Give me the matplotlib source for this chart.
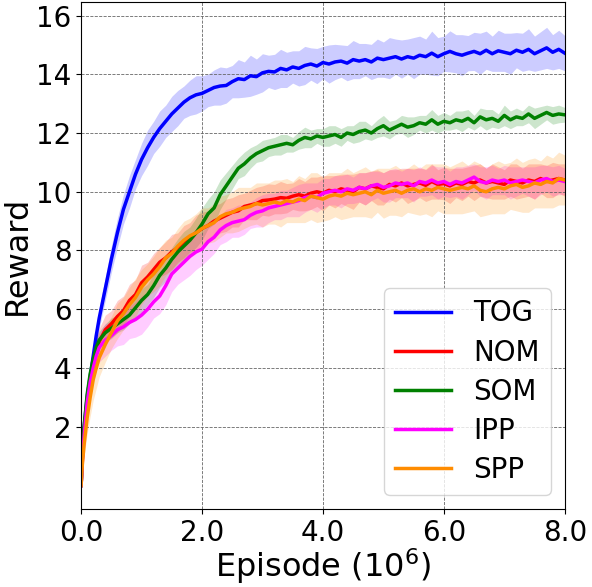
import numpy as np
import matplotlib
matplotlib.use("Agg")
import matplotlib.pyplot as plt

# episode axis (in 10^6), dense at the start where curves rise fast
episodes = np.concatenate([[0.0, 0.02, 0.05, 0.1, 0.15, 0.2, 0.25], np.round(np.arange(0.3, 8.05, 0.1), 2)])

tog_mean = [0.0, 1.0, 2.0, 3.0, 3.7, 4.4, 5.1,
            5.7, 6.7, 7.7, 8.6, 9.4, 10.0, 10.6, 11.1, 11.5, 11.85,
            12.15, 12.4, 12.65, 12.85, 13.05, 13.2, 13.3, 13.35, 13.45, 13.55,
            13.6, 13.62, 13.75, 13.85, 13.82, 13.95, 13.92, 14.05, 14.1, 14.08,
            14.2, 14.15, 14.25, 14.2, 14.3, 14.35, 14.28, 14.4, 14.35, 14.42,
            14.45, 14.38, 14.5, 14.45, 14.5, 14.42, 14.55, 14.5, 14.55, 14.6,
            14.52, 14.6, 14.55, 14.65, 14.6, 14.72, 14.6, 14.7, 14.78, 14.7,
            14.65, 14.72, 14.78, 14.7, 14.82, 14.7, 14.8, 14.75, 14.7, 14.82,
            14.75, 14.85, 14.7, 14.8, 14.9, 14.75, 14.85, 14.72]
tog_std = [0.0, 0.1, 0.2, 0.25, 0.3, 0.3, 0.35,
           0.35, 0.4, 0.45, 0.5, 0.5, 0.55, 0.5, 0.55, 0.6, 0.55,
           0.6, 0.55, 0.6, 0.6, 0.55, 0.6, 0.65, 0.6, 0.55, 0.6,
           0.65, 0.6, 0.55, 0.65, 0.6, 0.7, 0.6, 0.65, 0.55, 0.6,
           0.65, 0.6, 0.55, 0.6, 0.65, 0.55, 0.6, 0.55, 0.65, 0.6,
           0.55, 0.6, 0.65, 0.6, 0.55, 0.6, 0.65, 0.6, 0.7, 0.6,
           0.65, 0.6, 0.7, 0.65, 0.6, 0.75, 0.65, 0.6, 0.7, 0.65,
           0.7, 0.6, 0.65, 0.7, 0.65, 0.6, 0.7, 0.65, 0.7, 0.6,
           0.65, 0.7, 0.6, 0.65, 0.7, 0.6, 0.65, 0.6]

nom_mean = [0.0, 0.9, 1.8, 2.9, 3.6, 4.2, 4.6,
            4.9, 5.3, 5.5, 5.75, 5.95, 6.3, 6.5, 6.9, 7.1, 7.35,
            7.6, 7.75, 7.95, 8.1, 8.3, 8.45, 8.6, 8.75, 8.85, 9.0,
            9.1, 9.2, 9.3, 9.35, 9.5, 9.55, 9.6, 9.7, 9.72, 9.75,
            9.8, 9.78, 9.85, 9.9, 9.85, 9.95, 10.0, 9.95, 10.05, 10.0,
            10.1, 10.05, 10.0, 10.15, 10.1, 10.2, 10.15, 10.1, 10.25, 10.2,
            10.3, 10.2, 10.25, 10.3, 10.22, 10.35, 10.25, 10.28, 10.2, 10.3,
            10.25, 10.35, 10.3, 10.4, 10.3, 10.35, 10.3, 10.25, 10.4, 10.35,
            10.3, 10.4, 10.35, 10.45, 10.35, 10.4, 10.45, 10.4]
nom_std = [0.0, 0.15, 0.3, 0.35, 0.4, 0.4, 0.4,
           0.45, 0.5, 0.45, 0.55, 0.5, 0.55, 0.5, 0.6, 0.5, 0.55,
           0.5, 0.55, 0.6, 0.5, 0.55, 0.5, 0.6, 0.55, 0.5, 0.55,
           0.5, 0.55, 0.5, 0.55, 0.45, 0.5, 0.55, 0.5, 0.55, 0.5,
           0.55, 0.5, 0.45, 0.55, 0.5, 0.55, 0.5, 0.6, 0.5, 0.55,
           0.5, 0.55, 0.6, 0.5, 0.55, 0.5, 0.6, 0.55, 0.5, 0.55,
           0.5, 0.6, 0.55, 0.5, 0.55, 0.6, 0.5, 0.55, 0.6, 0.5,
           0.55, 0.5, 0.6, 0.55, 0.5, 0.6, 0.55, 0.5, 0.55, 0.6,
           0.5, 0.55, 0.6, 0.5, 0.55, 0.6, 0.5, 0.55]

som_mean = [0.0, 1.0, 2.0, 3.1, 3.8, 4.3, 4.7,
            4.95, 5.2, 5.35, 5.5, 5.65, 5.8, 6.05, 6.3, 6.5, 6.8,
            7.15, 7.4, 7.7, 7.95, 8.15, 8.35, 8.6, 8.9, 9.25, 9.45,
            9.9, 10.2, 10.5, 10.8, 10.95, 11.15, 11.3, 11.4, 11.5, 11.55,
            11.6, 11.65, 11.6, 11.75, 11.85, 11.8, 11.9, 11.85, 11.9, 11.95,
            11.85, 12.0, 11.95, 12.05, 12.1, 12.0, 12.15, 12.25, 12.1, 12.2,
            12.3, 12.2, 12.25, 12.35, 12.3, 12.45, 12.3, 12.4, 12.35, 12.45,
            12.4, 12.5, 12.35, 12.55, 12.45, 12.5, 12.4, 12.6, 12.45, 12.55,
            12.5, 12.65, 12.5, 12.6, 12.7, 12.6, 12.65, 12.62]
som_std = [0.0, 0.1, 0.2, 0.25, 0.25, 0.3, 0.3,
           0.3, 0.3, 0.35, 0.3, 0.35, 0.3, 0.35, 0.4, 0.35, 0.4,
           0.4, 0.45, 0.4, 0.45, 0.5, 0.45, 0.5, 0.55, 0.5, 0.55,
           0.5, 0.45, 0.4, 0.35, 0.4, 0.35, 0.3, 0.35, 0.3, 0.3,
           0.35, 0.3, 0.25, 0.3, 0.35, 0.3, 0.25, 0.3, 0.35, 0.3,
           0.3, 0.25, 0.3, 0.35, 0.3, 0.25, 0.3, 0.35, 0.3, 0.25,
           0.3, 0.35, 0.3, 0.25, 0.3, 0.35, 0.3, 0.3, 0.25, 0.3,
           0.35, 0.3, 0.25, 0.3, 0.35, 0.3, 0.25, 0.35, 0.3, 0.3,
           0.25, 0.3, 0.35, 0.3, 0.25, 0.3, 0.3, 0.25]

ipp_mean = [0.0, 0.8, 1.7, 2.8, 3.5, 4.0, 4.4,
            4.7, 4.95, 5.1, 5.3, 5.4, 5.55, 5.65, 5.8, 6.0, 6.25,
            6.45, 6.8, 7.2, 7.4, 7.6, 7.8, 7.95, 8.05, 8.3, 8.45,
            8.7, 8.85, 8.95, 9.0, 9.05, 9.2, 9.3, 9.35, 9.45, 9.5,
            9.55, 9.6, 9.65, 9.7, 9.8, 9.85, 9.8, 9.95, 10.0, 10.05,
            10.0, 10.1, 10.05, 10.15, 10.1, 10.2, 10.25, 10.15, 10.2, 10.3,
            10.25, 10.3, 10.2, 10.35, 10.3, 10.4, 10.3, 10.35, 10.25, 10.35,
            10.3, 10.4, 10.5, 10.35, 10.3, 10.4, 10.35, 10.4, 10.3, 10.35,
            10.4, 10.35, 10.3, 10.4, 10.45, 10.35, 10.4, 10.35]
ipp_std = [0.0, 0.15, 0.3, 0.4, 0.45, 0.5, 0.5,
           0.5, 0.55, 0.5, 0.55, 0.6, 0.55, 0.6, 0.65, 0.6, 0.55,
           0.6, 0.65, 0.6, 0.55, 0.6, 0.65, 0.6, 0.55, 0.6, 0.55,
           0.5, 0.55, 0.5, 0.55, 0.5, 0.45, 0.5, 0.55, 0.5, 0.45,
           0.5, 0.45, 0.5, 0.55, 0.5, 0.45, 0.5, 0.5, 0.45, 0.5,
           0.55, 0.5, 0.45, 0.5, 0.55, 0.5, 0.45, 0.5, 0.55, 0.5,
           0.45, 0.5, 0.55, 0.5, 0.45, 0.5, 0.55, 0.5, 0.45, 0.5,
           0.55, 0.5, 0.45, 0.5, 0.55, 0.5, 0.45, 0.5, 0.55, 0.5,
           0.45, 0.5, 0.55, 0.5, 0.45, 0.5, 0.5, 0.45]

spp_mean = [0.0, 0.7, 1.4, 2.3, 3.0, 3.6, 4.0,
            4.35, 4.8, 5.2, 5.6, 5.85, 6.15, 6.4, 6.75, 7.0, 7.2,
            7.45, 7.75, 7.9, 8.15, 8.35, 8.5, 8.6, 8.75, 8.85, 8.95,
            9.15, 9.25, 9.3, 9.4, 9.45, 9.5, 9.6, 9.55, 9.6, 9.65,
            9.6, 9.7, 9.65, 9.75, 9.7, 9.85, 9.8, 9.75, 9.85, 9.9,
            9.85, 9.95, 9.9, 9.95, 10.0, 9.9, 10.05, 9.95, 10.0, 10.05,
            9.95, 10.05, 10.1, 10.0, 10.1, 10.05, 10.15, 10.1, 10.05, 10.1,
            10.15, 10.1, 10.2, 10.05, 10.0, 10.1, 10.15, 10.1, 10.2, 10.25,
            10.15, 10.2, 10.3, 10.25, 10.35, 10.3, 10.45, 10.4]
spp_std = [0.0, 0.2, 0.4, 0.55, 0.65, 0.7, 0.7,
           0.65, 0.6, 0.55, 0.6, 0.55, 0.6, 0.65, 0.6, 0.55, 0.6,
           0.65, 0.6, 0.55, 0.6, 0.65, 0.6, 0.65, 0.7, 0.6, 0.65,
           0.7, 0.65, 0.7, 0.75, 0.7, 0.65, 0.7, 0.75, 0.7, 0.75,
           0.8, 0.75, 0.7, 0.8, 0.75, 0.8, 0.85, 0.75, 0.8, 0.75,
           0.8, 0.85, 0.75, 0.8, 0.85, 0.8, 0.75, 0.85, 0.8, 0.85,
           0.8, 0.75, 0.85, 0.8, 0.85, 0.9, 0.8, 0.85, 0.8, 0.85,
           0.9, 0.8, 0.85, 0.9, 0.8, 0.85, 0.9, 0.85, 0.8, 0.9,
           0.85, 0.9, 0.85, 0.8, 0.9, 0.85, 0.9, 0.85]

labels = ["TOG", "NOM", "SOM", "IPP", "SPP"]
colors = ["blue", "red", "green", "magenta", "darkorange"]
means = [tog_mean, nom_mean, som_mean, ipp_mean, spp_mean]
stds = [tog_std, nom_std, som_std, ipp_std, spp_std]

fig = plt.figure(figsize=(5.92, 5.87), dpi=100)
ax = fig.add_axes([0.137, 0.133, 0.817, 0.864])

for m, s, c, lab in zip(means, stds, colors, labels):
    m = np.array(m)
    s = np.array(s)
    ax.fill_between(episodes, m - s, m + s, color=c, alpha=0.2, linewidth=0)
    ax.plot(episodes, m, color=c, linewidth=2.5, label=lab)

ax.set_xlim(0, 8)
ax.set_ylim(-0.8, 16.47)
ax.set_xticks([0, 2, 4, 6, 8])
ax.set_xticklabels(["0.0", "2.0", "4.0", "6.0", "8.0"])
ax.set_yticks([2, 4, 6, 8, 10, 12, 14, 16])
ax.tick_params(labelsize=20)
ax.grid(True, linestyle="--", color="0.4", linewidth=0.6)
ax.set_xlabel("Episode ($10^6$)", fontsize=23, labelpad=0)
ax.set_ylabel("Reward", fontsize=23, labelpad=2)
ax.legend(loc="lower right", fontsize=20, labelspacing=0.4)

fig.savefig("out.png", dpi=100)
